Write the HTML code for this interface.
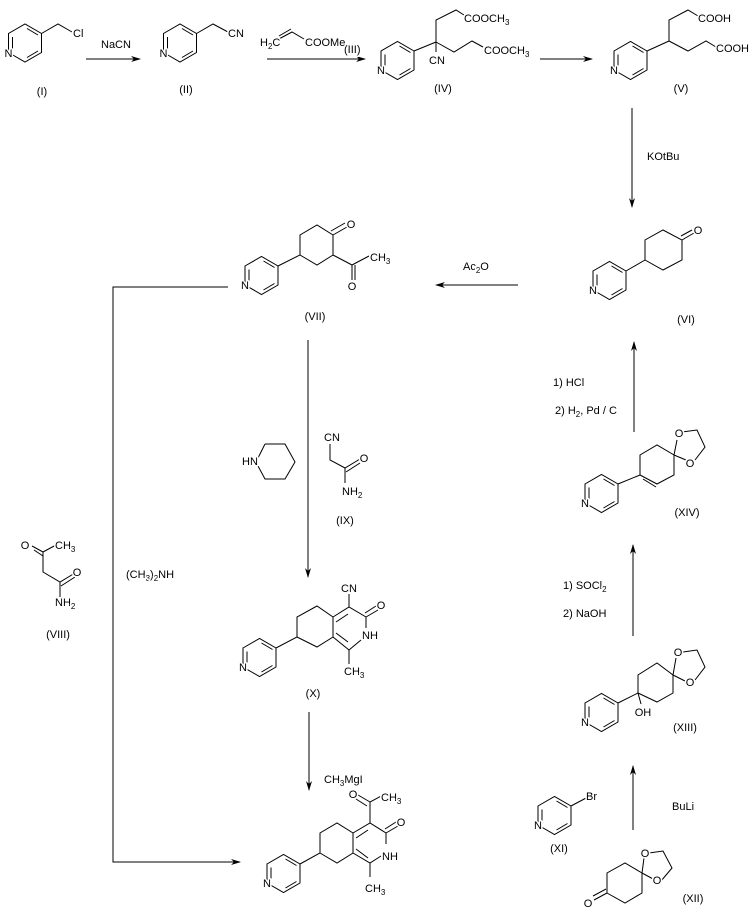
<!DOCTYPE html>
<html><head><meta charset="utf-8"><style>
html,body{margin:0;padding:0;background:#fff}
svg{display:block}
text{font-family:"Liberation Sans",sans-serif;font-size:11px;fill:#000;paint-order:stroke;stroke:#fff;stroke-width:3px;stroke-linejoin:round}
.s{font-size:8px}
</style></head><body>
<svg width="752" height="915" viewBox="0 0 752 915" xmlns="http://www.w3.org/2000/svg">
<defs>
<marker id="ah" markerWidth="10" markerHeight="8" refX="9" refY="4" orient="auto" markerUnits="userSpaceOnUse"><path d="M0,1 L10,4 L0,7 L3,4 Z" fill="#000"/></marker>
<g id="py" fill="none" stroke="#000" stroke-width="1">
<path d="M-16.5,9.5 L-16.5,-9.5 L0,-19 L16.5,-9.5 L16.5,9.5 L0,19 Z"/>
<path d="M2,-14.5 L13,-8 M13,8 L2,14.5 M-12.5,-6 L-12.5,6"/>
</g>
</defs>
<g fill="none" stroke="#000" stroke-width="1">
<use href="#py" x="25" y="43"/>
<path d="M41.5,33.5 L58,24 L72,32"/>
<use href="#py" x="180" y="43"/>
<path d="M196.5,33.5 L213,24 L228,32"/>
<path d="M277,40 L292,32 L304,39 M279,36 L291,29"/>
<path d="M86,59 L140,59" marker-end="url(#ah)"/>
<path d="M267,59 L365,59" marker-end="url(#ah)"/>
<path d="M540,59 L592,59" marker-end="url(#ah)"/>
<use href="#py" x="397.5" y="60.5"/>
<path d="M414,51 L436,42 L436,20 L456,10 L464,15 M436,42 L454,52 L472,41 L483,47 M436,42 L436,52"/>
<use href="#py" x="630.5" y="60.5"/>
<path d="M647,51 L669,41 L669,20 L688,10 L698,16 M669,41 L688,51 L706,41 L716,47"/>
<path d="M632,108 L632,207" marker-end="url(#ah)"/>
<use href="#py" x="609.5" y="280.5"/>
<path d="M626,271 L645,260 L645,240 L663,230 L682,240 L682,260 L663,270 L645,260 M682,240 L694,233 M681,236 L692,230"/>
<path d="M518,285 L436,285" marker-end="url(#ah)"/>
<use href="#py" x="261.5" y="275.5"/>
<path d="M278,266 L300,255 L300,235 L317,225 L333,235 L333,255 L317,265 L300,255 M333,235 L347,227 M331,231 L345,223 M333,255 L352,265 L369,256 M352,265 L352,280 M355,265 L355,280"/>
<path d="M228,287 L113,287 L113,862 L240,862" marker-end="url(#ah)"/>
<path d="M308,340 L308,577" marker-end="url(#ah)"/>
<path d="M265,444 L285,444 L295,462 L285,479 L265,479 L258,466 M258,458 L265,444"/>
<path d="M330,444 L330,460 L345,468 L360,459 M346,472 L360,463 M345,468 L345,483"/>
<path d="M32,546 L43,552 L56,545 M34,550 L43,556 M43,552 L43,572 L60,582 L75,573 M61,586 L75,577 M60,582 L60,597"/>
<use href="#py" x="259.5" y="657.5"/>
<path d="M276,648 L297,637 L297,617 L317,606 L333,617 L333,637 L317,647 L297,637 M333,617 L349,607 L366,617 L366,628 M361,640 L349,650 L333,637 M336,622 L348,614 M336,633 L348,642 M349,607 L349,594 M366,617 L378,610 M365,613 L376,606 M349,650 L349,664"/>
<path d="M309,712 L309,790" marker-end="url(#ah)"/>
<use href="#py" x="283.5" y="873.5"/>
<path d="M300,864 L320,853 L320,833 L337,823 L353,833 L353,853 L337,863 L320,853 M353,833 L370,823 L386,833 L386,844 M381,856 L370,863 L353,853 M356,838 L368,830 M356,849 L368,858 M370,823 L370,802 L383,795 M370,802 L358,795 M367,806 L356,799 M386,833 L398,826 M385,829 L396,822 M370,863 L370,877"/>
<path d="M634,432 L634,342" marker-end="url(#ah)"/>
<use href="#py" x="601.5" y="493.5"/>
<path d="M618,484 L640,475 L640,455 L657,445 L674,455 L674,475 L657,484 L640,475 M643,479 L656,487 M674,455 L677,440 M674,455 L686,460 M682,432 L697,430 L705,447 L695,460"/>
<path d="M633,636 L633,545" marker-end="url(#ah)"/>
<use href="#py" x="601.5" y="712.5"/>
<path d="M618,703 L638,693 L638,675 L657,663 L673,675 L673,693 L657,702 L638,693 M638,693 L641,704 M673,675 L676,658 M673,675 L685,681 M683,652 L697,650 L705,667 L695,680"/>
<path d="M633,830 L633,766" marker-end="url(#ah)"/>
<use href="#py" x="554.5" y="815.5"/>
<path d="M571,806 L588,797"/>
<path d="M607,893 L607,873 L625,863 L642,873 L642,893 L625,903 L607,893 M607,893 L594,900 M606,889 L593,896 M642,873 L644,858 M642,873 L655,880 M649,853 L663,851 L672,868 L661,881"/>
</g>
<g>
<text x="8.5" y="57" text-anchor="middle">N</text>
<text x="73" y="37">Cl</text>
<text x="42" y="95" text-anchor="middle">(I)</text>
<text x="101" y="48">NaCN</text>
<text x="163.5" y="57" text-anchor="middle">N</text>
<text x="228" y="37">CN</text>
<text x="186" y="93" text-anchor="middle">(II)</text>
<text x="260" y="46">H<tspan class="s" dy="3">2</tspan><tspan dy="-3">C</tspan></text>
<text x="305" y="46">COOMe</text>
<text x="344" y="53">(III)</text>
<text x="381" y="74" text-anchor="middle">N</text>
<text x="464" y="22">COOCH<tspan class="s" dy="3">3</tspan></text>
<text x="484" y="54">COOCH<tspan class="s" dy="3">3</tspan></text>
<text x="429" y="64">CN</text>
<text x="443" y="92" text-anchor="middle">(IV)</text>
<text x="614" y="74" text-anchor="middle">N</text>
<text x="698" y="22">COOH</text>
<text x="716" y="52">COOH</text>
<text x="681" y="92" text-anchor="middle">(V)</text>
<text x="647" y="160">KOtBu</text>
<text x="593" y="294" text-anchor="middle">N</text>
<text x="698" y="234" text-anchor="middle">O</text>
<text x="686" y="323" text-anchor="middle">(VI)</text>
<text x="463" y="270">Ac<tspan class="s" dy="3">2</tspan><tspan dy="-3">O</tspan></text>
<text x="245" y="289" text-anchor="middle">N</text>
<text x="351" y="228" text-anchor="middle">O</text>
<text x="370" y="261">CH<tspan class="s" dy="3">3</tspan></text>
<text x="352" y="290" text-anchor="middle">O</text>
<text x="315" y="320" text-anchor="middle">(VII)</text>
<text x="250" y="465" text-anchor="middle">HN</text>
<text x="332" y="441" text-anchor="middle">CN</text>
<text x="364" y="462" text-anchor="middle">O</text>
<text x="342" y="495">NH<tspan class="s" dy="3">2</tspan></text>
<text x="345" y="524" text-anchor="middle">(IX)</text>
<text x="25" y="549" text-anchor="middle">O</text>
<text x="55" y="549">CH<tspan class="s" dy="3">3</tspan></text>
<text x="77" y="576" text-anchor="middle">O</text>
<text x="55" y="606">NH<tspan class="s" dy="3">2</tspan></text>
<text x="58" y="638" text-anchor="middle">(VIII)</text>
<text x="126" y="578">(CH<tspan class="s" dy="3">3</tspan><tspan dy="-3">)</tspan><tspan class="s" dy="3">2</tspan><tspan dy="-3">NH</tspan></text>
<text x="243" y="671" text-anchor="middle">N</text>
<text x="349" y="592" text-anchor="middle">CN</text>
<text x="381" y="609" text-anchor="middle">O</text>
<text x="362" y="639">NH</text>
<text x="344" y="675">CH<tspan class="s" dy="3">3</tspan></text>
<text x="313" y="697" text-anchor="middle">(X)</text>
<text x="324" y="783">CH<tspan class="s" dy="3">3</tspan><tspan dy="-3">MgI</tspan></text>
<text x="267" y="887" text-anchor="middle">N</text>
<text x="353" y="798" text-anchor="middle">O</text>
<text x="381" y="801">CH<tspan class="s" dy="3">3</tspan></text>
<text x="401" y="826" text-anchor="middle">O</text>
<text x="382" y="860">NH</text>
<text x="365" y="892">CH<tspan class="s" dy="3">3</tspan></text>
<text x="553" y="386">1) HCl</text>
<text x="555" y="414">2)  H<tspan class="s" dy="3">2</tspan><tspan dy="-3">, Pd / C</tspan></text>
<text x="585" y="507" text-anchor="middle">N</text>
<text x="679" y="437" text-anchor="middle">O</text>
<text x="690" y="467" text-anchor="middle">O</text>
<text x="687" y="516" text-anchor="middle">(XIV)</text>
<text x="563" y="589">1) SOCl<tspan class="s" dy="3">2</tspan></text>
<text x="563" y="617">2) NaOH</text>
<text x="585" y="726" text-anchor="middle">N</text>
<text x="678" y="656" text-anchor="middle">O</text>
<text x="690" y="686" text-anchor="middle">O</text>
<text x="643" y="716" text-anchor="middle">OH</text>
<text x="685" y="731" text-anchor="middle">(XIII)</text>
<text x="538" y="829" text-anchor="middle">N</text>
<text x="586" y="800">Br</text>
<text x="559" y="852" text-anchor="middle">(XI)</text>
<text x="672" y="810">BuLi</text>
<text x="588" y="907" text-anchor="middle">O</text>
<text x="645" y="857" text-anchor="middle">O</text>
<text x="657" y="884" text-anchor="middle">O</text>
<text x="693" y="902" text-anchor="middle">(XII)</text>
</g>
</svg>
</body></html>
